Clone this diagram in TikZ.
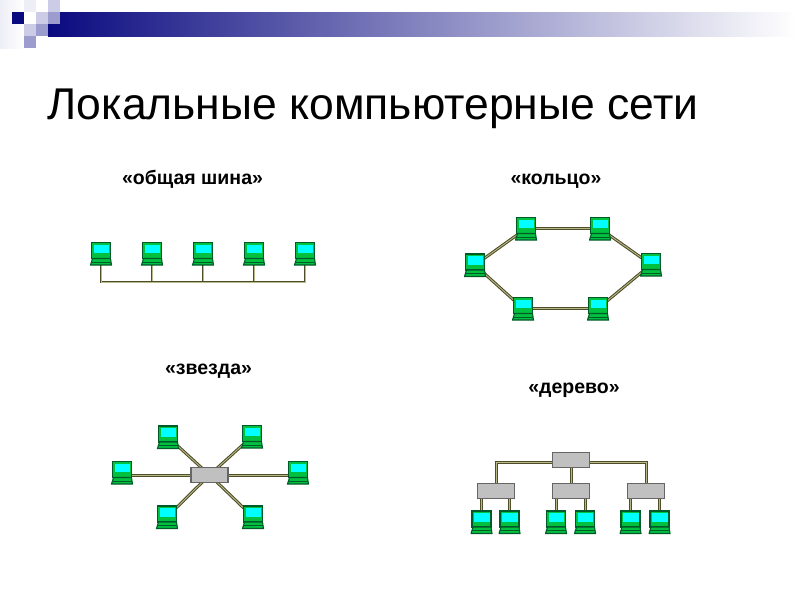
\documentclass[tikz,border=0pt]{standalone}
\usepackage{xcolor}
\usepackage{fontspec}
\usetikzlibrary{backgrounds}
\setmainfont{Liberation Sans}
\definecolor{barnavy}{HTML}{0A0A80}
\definecolor{squaremid}{HTML}{9C9CCE}
\definecolor{squarelight}{HTML}{CCCCE6}
\definecolor{squarepale}{HTML}{EEEEF7}
\definecolor{pcgreen}{HTML}{00C040}
\definecolor{pcdark}{HTML}{005A28}
\definecolor{pcscreen}{HTML}{00FFFF}
\definecolor{cableolive}{HTML}{4E4E28}
\definecolor{cablelight}{HTML}{B8B888}
\definecolor{hubgray}{HTML}{C0C0C0}
\tikzset{
  x=0.01cm, y=-0.01cm,
  pc/.style={rectangle, inner sep=0pt, outer sep=0pt, minimum width=0.22cm, minimum height=0.24cm,
    path picture={
      \begin{scope}[shift={(path picture bounding box.center)}]
        \filldraw[fill=pcgreen, draw=pcdark, line width=0.3pt] (-9.5,-11) rectangle (9.5,5);
        \fill[pcscreen] (-7.5,-9) rectangle (8,-0.5);
        \filldraw[fill=pcgreen, draw=pcdark, line width=0.3pt] (-8.5,5) -- (9.5,5) -- (10.5,11.5) -- (-10.5,11.5) -- cycle;
        \draw[pcdark, line width=0.25pt] (-9.5,8.5) -- (10,8.5);
      \end{scope}
    }},
  hub/.style={draw=black!60, line width=0.3pt, fill=hubgray, rectangle, inner sep=0pt, outer sep=0pt, minimum width=0.37cm, minimum height=0.155cm},
  cable/.style={draw=cableolive, line width=0.3pt, double=cablelight, double distance=0.25pt},
  toplabel/.style={font=\fontsize{5.55pt}{6.6pt}\bfseries\selectfont, anchor=base},
  headline/.style={font=\fontsize{12.65pt}{15pt}\selectfont, anchor=west, inner sep=0pt}
}
\begin{document}
\begin{tikzpicture}%
\useasboundingbox (0,0) rectangle (800,600);%
\shade[left color=barnavy, right color=white, shading angle=90, middle color=barnavy!50!white] (48,12) rectangle (796,36);%
\fill[white] (24,12) rectangle (60,24);%
\fill[white] (24,24) rectangle (48,36);%
\shade[left color=squarepale, right color=white] (0,0) rectangle (24,48);%
\fill[squarepale] (24,0) rectangle (36,12);%
\fill[barnavy] (12,12) rectangle (24,24);%
\fill[squarelight] (48,0) rectangle (60,12);%
\fill[squarelight] (36,12) rectangle (48,24);%
\fill[squaremid] (48,12) rectangle (60,24);%
\fill[squarelight] (24,24) rectangle (36,36);%
\fill[squaremid] (36,24) rectangle (48,36);%
\fill[squaremid] (24,36) rectangle (36,48);%
\node[headline] (title) at (47,109) {Локальные компьютерные сети};%
\node[toplabel] (buslabel) at (192.5,184) {«общая шина»};%
\node[toplabel] (ringlabel) at (556,184) {«кольцо»};%
\node[toplabel] (starlabel) at (208.5,374) {«звезда»};%
\node[toplabel] (treelabel) at (574,393) {«дерево»};%
\node[pc] (bus1) at (101,253.5) {};%
\node[pc] (bus2) at (152,253.5) {};%
\node[pc] (bus3) at (203,253.5) {};%
\node[pc] (bus4) at (254,253.5) {};%
\node[pc] (bus5) at (305,253.5) {};%
\coordinate (busleft) at (101,282);%
\coordinate (busright) at (305,282);%
\node[pc] (ring1) at (475,265) {};%
\node[pc] (ring2) at (526,228.5) {};%
\node[pc] (ring3) at (600,228.5) {};%
\node[pc] (ring4) at (651,264.5) {};%
\node[pc] (ring5) at (598,308.5) {};%
\node[pc] (ring6) at (523,308.5) {};%
\node[hub] (starhub) at (209.5,475) {};%
\node[pc] (star1) at (168,437) {};%
\node[pc] (star2) at (252,436.5) {};%
\node[pc] (star3) at (122,472.5) {};%
\node[pc] (star4) at (298,472.5) {};%
\node[pc] (star5) at (167,517) {};%
\node[pc] (star6) at (253,517) {};%
\node[hub] (treetop) at (571,460) {};%
\node[hub] (treeleft) at (496,491) {};%
\node[hub] (treemid) at (571,491) {};%
\node[hub] (treeright) at (646,491) {};%
\node[pc] (tree1) at (481.5,522) {};%
\node[pc] (tree2) at (509.5,522) {};%
\node[pc] (tree3) at (556,522) {};%
\node[pc] (tree4) at (585,522) {};%
\node[pc] (tree5) at (630.5,522) {};%
\node[pc] (tree6) at (659.5,522) {};%
\begin{pgfonlayer}{background}%
\draw[cable] (bus2.center) -- (bus2.center |- busleft);%
\draw[cable] (bus3.center) -- (bus3.center |- busleft);%
\draw[cable] (bus4.center) -- (bus4.center |- busleft);%
\draw[cable] (bus1.center) -- (busleft) -- (busright) -- (bus5.center);%
\draw[cable] (ring1.center) -- (ring2.center);%
\draw[cable] (ring2.center) -- (ring3.center);%
\draw[cable] (ring3.center) -- (ring4.center);%
\draw[cable] (ring4.center) -- (ring5.center);%
\draw[cable] (ring5.center) -- (ring6.center);%
\draw[cable] (ring6.center) -- (ring1.center);%
\draw[cable] (starhub.center) -- (star1.center);%
\draw[cable] (starhub.center) -- (star2.center);%
\draw[cable] (starhub.center) -- (star3.center |- starhub.center);%
\draw[cable] (starhub.center) -- (star4.center |- starhub.center);%
\draw[cable] (starhub.center) -- (star5.center);%
\draw[cable] (starhub.center) -- (star6.center);%
\draw[cable] ([yshift=-0.02cm]treetop.center) -| (treeleft.center);%
\draw[cable] ([yshift=-0.02cm]treetop.center) -| (treeright.center);%
\draw[cable] (treetop.center) -- (treemid.center);%
\draw[cable] (tree1.center) -- (tree1.center |- treeleft.center);%
\draw[cable] (tree2.center) -- (tree2.center |- treeleft.center);%
\draw[cable] (tree3.center) -- (tree3.center |- treemid.center);%
\draw[cable] (tree4.center) -- (tree4.center |- treemid.center);%
\draw[cable] (tree5.center) -- (tree5.center |- treeright.center);%
\draw[cable] (tree6.center) -- (tree6.center |- treeright.center);%
\end{pgfonlayer}%
\end{tikzpicture}
\end{document}
